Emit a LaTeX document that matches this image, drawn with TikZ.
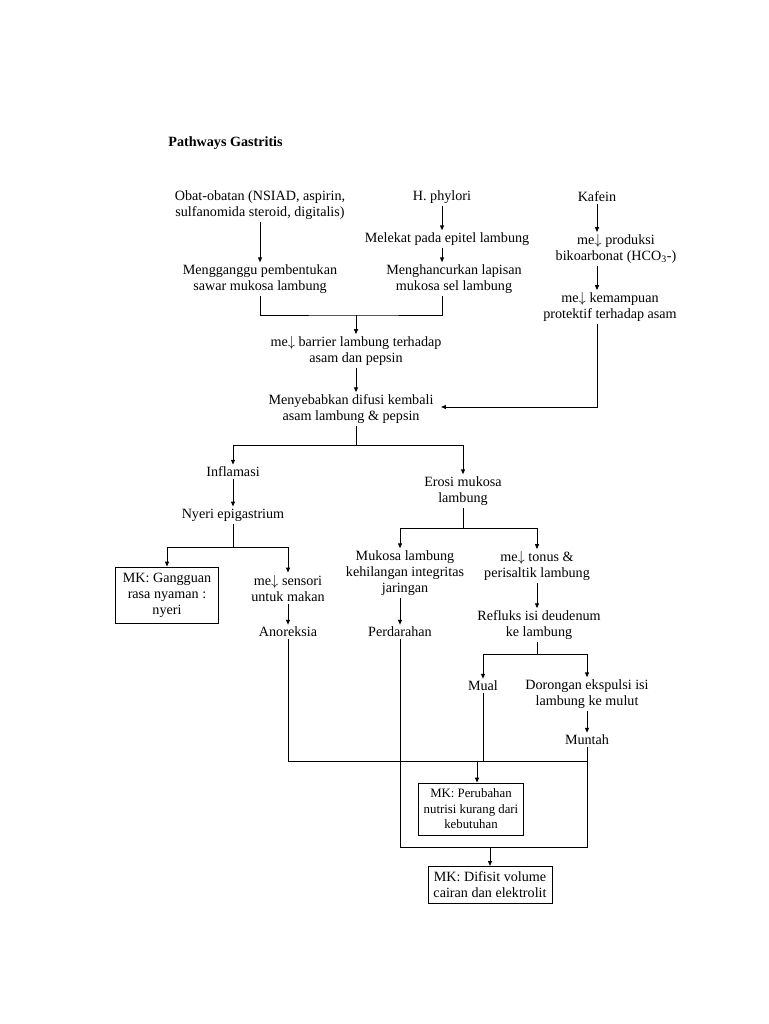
\documentclass[tikz,border=0pt]{standalone}
\usepackage{fontspec}
\setmainfont{Liberation Serif}
\usetikzlibrary{arrows.meta}

\begin{document}
\begin{tikzpicture}[x=0.75pt,y=-0.75pt,line width=0.6pt,
  font=\fontsize{10.6}{12}\selectfont,
  every node/.style={align=center,inner sep=1.5pt},
  arr/.style={-{Triangle[length=3.6pt,width=3pt]}},
  mk/.style={draw,line width=0.75pt,inner sep=2pt}]
  \useasboundingbox (0,0) rectangle (768,1024);
  \node[anchor=west] (judul) at (166,143) {\bfseries Pathways Gastritis};
  \node (obat) at (260,205) {Obat-obatan (NSIAD, aspirin,\\sulfanomida steroid, digitalis)};
  \node (ganggu) at (260,279) {Mengganggu pembentukan\\sawar mukosa lambung};
  \node (hp) at (442,197) {H. phylori};
  \node (melekat) at (447,239) {Melekat pada epitel lambung};
  \node (hancur) at (454,279) {Menghancurkan lapisan\\mukosa sel lambung};
  \node (kafein) at (597,197) {Kafein};
  \node (bikarb) at (616,249) {me$\downarrow$ produksi\\bikoarbonat (HCO\textsubscript{3}-)};
  \node (protektif) at (610,307) {me$\downarrow$ kemampuan\\protektif terhadap asam};
  \coordinate (jA) at (356,315);
  \node (barrier) at (356,351) {me$\downarrow$ barrier lambung terhadap\\asam dan pepsin};
  \node (difusi) at (351,409) {Menyebabkan difusi kembali\\asam lambung \& pepsin};
  \coordinate (jB) at (356,445);
  \node (inflamasi) at (233,472) {Inflamasi};
  \node (nyeri) at (233,515) {Nyeri epigastrium};
  \coordinate (jC) at (233,547);
  \node[mk,minimum width=77pt,minimum height=42pt] (mknyeri) at (167,595) {MK: Gangguan\\rasa nyaman :\\nyeri};
  \node (sensori) at (288,588) {me$\downarrow$ sensori\\untuk makan};
  \node (anoreksia) at (288,632) {Anoreksia};
  \node (erosi) at (463,491) {Erosi mukosa\\lambung};
  \coordinate (jF) at (463,528);
  \node (integritas) at (405,573) {Mukosa lambung\\kehilangan integritas\\jaringan};
  \node (perdarahan) at (400,632) {Perdarahan};
  \node (tonus) at (537,566) {me$\downarrow$ tonus \&\\perisaltik lambung};
  \node (refluks) at (539,625) {Refluks isi deudenum\\ke lambung};
  \coordinate (jG) at (537,654);
  \node (mual) at (483,686) {Mual};
  \node (dorongan) at (587,694) {Dorongan ekspulsi isi\\lambung ke mulut};
  \node (muntah) at (587,740) {Muntah};
  \coordinate (jD) at (477,761);
  \coordinate (jE) at (490,847);
  \node[mk,minimum width=79pt,minimum height=39pt,font=\fontsize{9.6}{11.6}\selectfont] (mknutrisi) at (471,809) {MK: Perubahan\\nutrisi kurang dari\\kebutuhan};
  \node[mk,minimum width=93pt,minimum height=28pt] (mkcairan) at (490,885) {MK: Difisit volume\\cairan dan elektrolit};
  \draw[arr] (obat) -- (ganggu);
  \draw[arr] (hp) -- (melekat.north -| hp);
  \draw[arr] (melekat.south -| hp) -- (hancur.north -| hp);
  \draw (ganggu.south) |- (jA) -| (hancur.south -| hp);
  \draw[arr] (jA) -- (barrier);
  \draw[arr] (kafein) -- (bikarb.north -| kafein);
  \draw[arr] (bikarb.south -| kafein) -- (protektif.north -| kafein);
  \draw[arr] (protektif.south -| kafein) |- ([xshift=4pt,yshift=1.5pt]difusi.east);
  \draw[arr] (barrier.south) -- (difusi.north -| barrier);
  \draw (difusi.south -| barrier) -- (jB);
  \draw[arr] (jB) -| (inflamasi);
  \draw[arr] (jB) -| (erosi);
  \draw[arr] (inflamasi) -- (nyeri);
  \draw (nyeri) -- (jC);
  \draw[arr] (jC) -| (mknyeri);
  \draw[arr] (jC) -| (sensori);
  \draw[arr] (sensori) -- (anoreksia);
  \draw (erosi) -- (jF);
  \draw[arr] (jF) -| (integritas.north -| perdarahan);
  \draw[arr] (jF) -| (tonus);
  \draw[arr] (integritas.south -| perdarahan) -- (perdarahan);
  \draw[arr] (tonus) -- (refluks.north -| tonus);
  \draw (refluks.south -| tonus) -- (jG);
  \draw[arr] (jG) -| (mual);
  \draw[arr] (jG) -| (dorongan);
  \draw[arr] (dorongan) -- (muntah);
  \draw (anoreksia) |- (jD);
  \draw (mual) -- (mual |- jD);
  \draw (muntah) |- (jE);
  \draw (muntah.south |- jD) -- (jD);
  \draw[arr] (jD) -- (jD |- mknutrisi.north);
  \draw (perdarahan) |- (jE);
  \draw[arr] (jE) -- (mkcairan);
\end{tikzpicture}
\end{document}
